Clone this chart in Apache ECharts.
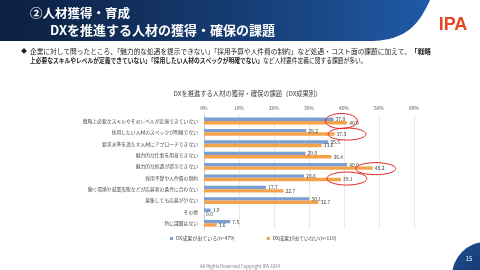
<!DOCTYPE html>
<html><head><meta charset="utf-8">
<script src="https://cdn.jsdelivr.net/npm/echarts@6/dist/echarts.min.js"></script>
<style>html,body{margin:0;padding:0;background:#fff}#c{width:480px;height:270px}</style>
</head><body><div id="c"></div>
<script>
const categories = [
  '戦略上必要なスキルやそのレベルが定義できていない',
  '採用したい人材のスペックが明確でない',
  '要求水準を満たす人材にアプローチできない',
  '魅力的な仕事を用意できない',
  '魅力的な処遇が提示できない',
  '採用予算や人件費の制約',
  '働く環境や就業形態などが応募者の条件に合わない',
  '募集しても応募が少ない',
  'その他',
  '特に課題はない'
];
const seriesNames = ['DX成果が出ている(n=479)', 'DX成果が出ていない(n=110)'];
const outcomeYes = [37.0, 29.2, 35.5, 29.0, 40.9, 28.6, 17.7, 30.1, 1.9, 7.5];
const outcomeNo  = [40.9, 37.3, 33.6, 36.4, 48.2, 39.1, 22.7, 32.7, 0.0, 3.6];
const axisMin = 0, axisMax = 60, axisStep = 10;
// highlighted labels: [category index, which series (0/1/both=2)]
const highlights = [[0, 2], [1, 1], [4, 1], [5, 1]];

const FONT = '"Noto Sans CJK JP", "Noto Sans", sans-serif';
const chart = echarts.init(document.getElementById('c'), null, {renderer: 'canvas'});

const labelCfg = {
  show: true, position: 'right', distance: 2, fontSize: 5, color: '#404040',
  fontFamily: FONT, formatter: p => p.value.toFixed(1)
};

chart.setOption({
  animation: false,
  textStyle: {fontFamily: FONT},
  grid: {left: 204, right: 66, top: 115.3, bottom: 41, containLabel: false},
  xAxis: {
    type: 'value', position: 'top', min: axisMin, max: axisMax, interval: axisStep,
    axisLabel: {formatter: '{value}%', fontSize: 5, color: '#595959', margin: 5, fontFamily: FONT},
    axisLine: {show: false}, axisTick: {show: false},
    splitLine: {show: true, lineStyle: {color: '#d9d9d9', width: 0.6}}
  },
  yAxis: {
    type: 'category', data: categories, inverse: true,
    axisLabel: {fontSize: 4.8, color: '#4a4a4a', margin: 6, fontFamily: FONT},
    axisLine: {show: true, lineStyle: {color: '#bfbfbf', width: 0.8}},
    axisTick: {show: false}
  },
  legend: {
    left: 165, top: 231, itemWidth: 3, itemHeight: 3, itemGap: 32, icon: 'rect',
    textStyle: {fontSize: 5, color: '#404040', padding: [0,0,0,-2], fontFamily: FONT},
    data: seriesNames
  },
  series: [
    {name: seriesNames[0], type: 'bar', data: outcomeYes, barWidth: 3.4, barGap: '0%',
     itemStyle: {color: '#7c9fd3'}, label: labelCfg},
    {name: seriesNames[1], type: 'bar', data: outcomeNo, barWidth: 3.4, barGap: '0%',
     itemStyle: {color: '#f5a34a'}, label: labelCfg}
  ]
});

function cubicPts(p0, p1, p2, p3, n) {
  const pts = [];
  for (let i = 0; i <= n; i++) {
    const t = i / n, u = 1 - t;
    pts.push([u*u*u*p0[0] + 3*u*u*t*p1[0] + 3*u*t*t*p2[0] + t*t*t*p3[0],
              u*u*u*p0[1] + 3*u*u*t*p1[1] + 3*u*t*t*p2[1] + t*t*t*p3[1]]);
  }
  return pts;
}
function ellipsePts(cx, cy, rx, ry, n) {
  const pts = [];
  for (let i = 0; i < n; i++) {
    const a = 2 * Math.PI * i / n;
    pts.push([cx + rx * Math.cos(a), cy + ry * Math.sin(a)]);
  }
  return pts;
}

const g = [];
const headerPts = [[0, 0]].concat(cubicPts([430, 0], [420, 22], [408, 40], [372, 41], 24)).concat([[0, 41]]);
g.push({type: 'polygon', z: -5, shape: {points: headerPts},
  style: {fill: new echarts.graphic.LinearGradient(0, 0, 1, 0, [
    {offset: 0, color: '#0c1f3f'}, {offset: 0.6, color: '#173f78'}, {offset: 1, color: '#1f5aa6'}])}});
g.push({type: 'text', x: 30, y: 13, style: {text: '②人材獲得・育成', fontSize: 12.5, fontWeight: 'bold', fill: '#fff', fontFamily: FONT, verticalAlign: 'middle'}});
g.push({type: 'text', x: 50, y: 30, style: {text: 'DXを推進する人材の獲得・確保の課題', fontSize: 13, fontWeight: 'bold', fill: '#fff', fontFamily: FONT, verticalAlign: 'middle'}});
g.push({type: 'text', x: 453, y: 25, style: {text: 'IPA', fontSize: 18, fontWeight: 'bold', fill: '#e8461e', fontFamily: '"Liberation Sans", sans-serif', align: 'center', verticalAlign: 'middle'}});
g.push({type: 'text', x: 21, y: 51, style: {text: '◆', fontSize: 6, fill: '#222', fontFamily: FONT, verticalAlign: 'middle'}});
g.push({type: 'text', x: 30, y: 51, style: {
  text: '企業に対して問ったところ、「魅力的な処遇を提示できない」「採用予算や人件費の制約」など処遇・コスト面の課題に加えて、{b|「戦略}',
  fontSize: 6.7, fill: '#222', fontFamily: FONT, verticalAlign: 'middle',
  rich: {b: {fontWeight: 'bold', fontSize: 6.7, fontFamily: FONT, fill: '#222'}}}});
g.push({type: 'text', x: 30, y: 60, scaleX: 0.86, style: {
  text: '{b|上必要なスキルやレベルが定義できていない」「採用したい人材のスペックが明確でない」}など人材要件定義に関する課題が多い。',
  fontSize: 6.7, fill: '#222', fontFamily: FONT, verticalAlign: 'middle',
  rich: {b: {fontWeight: 'bold', fontSize: 6.7, fontFamily: FONT, fill: '#222'}}}});
g.push({type: 'text', x: 247.5, y: 94, style: {text: 'DXを推進する人材の獲得・確保の課題（DX成果別）', fontSize: 6.3, fill: '#404040', fontFamily: FONT, align: 'center', verticalAlign: 'middle'}});
g.push({type: 'text', x: 240, y: 266, style: {text: 'All Rights Reserved Copyright IPA 2024', fontSize: 4.5, fill: '#7f7f7f', fontFamily: FONT, align: 'center', verticalAlign: 'middle'}});
g.push({type: 'circle', shape: {cx: 486, cy: 276, r: 34},
  style: {fill: new echarts.graphic.LinearGradient(0, 0, 1, 1, [{offset: 0, color: '#1f4f96'}, {offset: 1, color: '#0c1f3f'}])}});
g.push({type: 'text', x: 469, y: 259, style: {text: '15', fontSize: 6, fill: '#fff', fontFamily: FONT, align: 'center', verticalAlign: 'middle'}});

// annotation ellipse look (pixel offsets / radii), one per highlight
const ellipseLook = [
  {dx: 1, dy: 0, rx: 16, ry: 7.5},
  {dx: 12.5, dy: 0, rx: 19, ry: 6},
  {dx: 3, dy: 0.5, rx: 20, ry: 6},
  {dx: 6, dy: -1, rx: 20, ry: 6.5}
];
highlights.forEach(([ci, which], k) => {
  const vals = which === 2 ? [outcomeYes[ci], outcomeNo[ci]] : [[outcomeYes, outcomeNo][which][ci]];
  const pRight = chart.convertToPixel({gridIndex: 0}, [Math.max(...vals), ci]);
  const pLeft = chart.convertToPixel({gridIndex: 0}, [Math.min(...vals), ci]);
  const L = ellipseLook[k];
  const cy = pRight[1] + (which === 1 ? 1.7 : which === 0 ? -1.7 : 0) + L.dy;
  const cx = (pLeft[0] + pRight[0]) / 2 + L.dx;
  g.push({type: 'polygon', shape: {points: ellipsePts(cx, cy, L.rx, L.ry, 48)},
    style: {fill: 'none', stroke: '#e02020', lineWidth: 1}, z: 100});
});

chart.setOption({graphic: {elements: g}});
</script></body></html>
